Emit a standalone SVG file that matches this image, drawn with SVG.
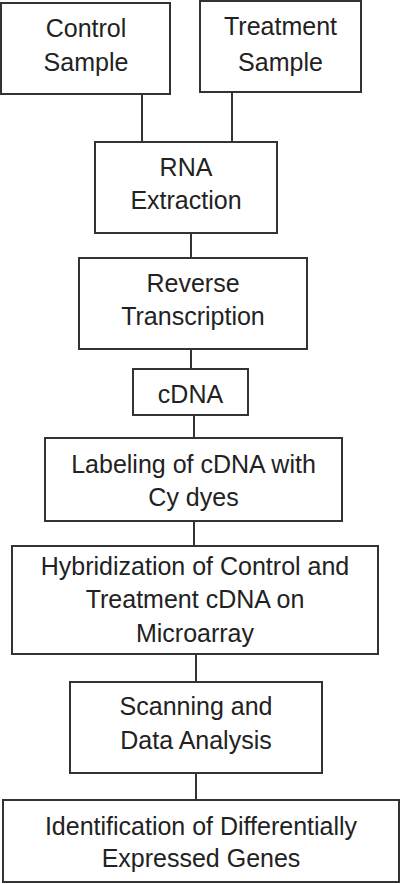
<svg xmlns="http://www.w3.org/2000/svg" width="400" height="884" viewBox="0 0 400 884">
<style>
.box{fill:#fff;stroke:#333;stroke-width:2}
.lbl{font-family:"Liberation Sans",Arial,sans-serif;font-size:25px;fill:#222;text-anchor:middle}
.conn{stroke:#333;stroke-width:2;fill:none}
</style>
<rect width="400" height="884" fill="#fff"/>
<g id="connectors">
<line class="conn" x1="142" y1="94" x2="142" y2="143"/>
<line class="conn" x1="232" y1="92" x2="232" y2="143"/>
<line class="conn" x1="191" y1="233" x2="191" y2="258"/>
<line class="conn" x1="191" y1="349" x2="191" y2="369"/>
<line class="conn" x1="194" y1="415" x2="194" y2="438"/>
<line class="conn" x1="194" y1="521" x2="194" y2="546"/>
<line class="conn" x1="196" y1="654" x2="196" y2="682"/>
<line class="conn" x1="196" y1="773" x2="196" y2="800"/>
</g>
<g id="control">
<rect class="box" x="1" y="3" width="169" height="91"/>
<text class="lbl" x="86" y="37">Control</text>
<text class="lbl" x="86" y="71">Sample</text>
</g>
<g id="treatment">
<rect class="box" x="200" y="1" width="161" height="91"/>
<text class="lbl" x="280.5" y="35">Treatment</text>
<text class="lbl" x="280.5" y="71">Sample</text>
</g>
<g id="rna">
<rect class="box" x="95" y="142" width="182" height="91"/>
<text class="lbl" x="186" y="176">RNA</text>
<text class="lbl" x="186" y="209">Extraction</text>
</g>
<g id="reverse">
<rect class="box" x="79" y="258" width="228" height="91"/>
<text class="lbl" x="193" y="292">Reverse</text>
<text class="lbl" x="193" y="325">Transcription</text>
</g>
<g id="cdna">
<rect class="box" x="133" y="369" width="115" height="46"/>
<text class="lbl" x="190.5" y="403">cDNA</text>
</g>
<g id="labeling">
<rect class="box" x="45" y="438" width="297" height="83"/>
<text class="lbl" x="193.5" y="473">Labeling of cDNA with</text>
<text class="lbl" x="193.5" y="506">Cy dyes</text>
</g>
<g id="hybridization">
<rect class="box" x="12" y="546" width="366" height="108"/>
<text class="lbl" x="195" y="575">Hybridization of Control and</text>
<text class="lbl" x="195" y="608">Treatment cDNA on</text>
<text class="lbl" x="195" y="642">Microarray</text>
</g>
<g id="scanning">
<rect class="box" x="70" y="682" width="252" height="91"/>
<text class="lbl" x="196" y="715">Scanning and</text>
<text class="lbl" x="196" y="749">Data Analysis</text>
</g>
<g id="identification">
<rect class="box" x="3" y="800" width="396" height="82"/>
<text class="lbl" x="201" y="835">Identification of Differentially</text>
<text class="lbl" x="201" y="867">Expressed Genes</text>
</g>
</svg>
